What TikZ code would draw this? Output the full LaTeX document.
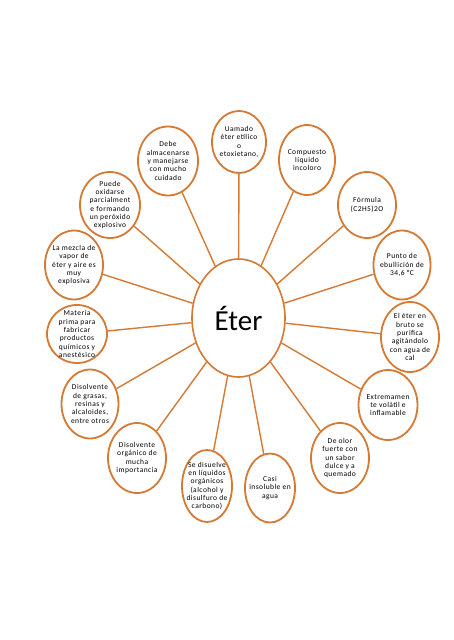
\documentclass[tikz,border=0pt]{standalone}
\usepackage{fontspec}
\setmainfont{Carlito}
\newfontfamily\bubblefont[LetterSpace=6]{Carlito}
\usetikzlibrary{shapes.geometric}
\definecolor{eorange}{RGB}{212,122,52}
\tikzset{
  bubble/.style={ellipse, draw=eorange, line width=1.8pt, fill=white, inner sep=0pt},
  btext/.style={font=\bubblefont\fontsize{7.5}{8.3}\selectfont, align=center, inner sep=0pt, text=black},
  spoke/.style={draw=eorange, line width=1.4pt},
}
\begin{document}
\begin{tikzpicture}[x=1pt,y=-1pt]
\useasboundingbox[fill=white] (0,0) rectangle (453,640);
\node[ellipse, draw=eorange, line width=1.6pt, fill=white, minimum width=93pt, minimum height=118pt, inner sep=0pt, font=\fontsize{29}{34}\selectfont] (c) at (238.5,318) {Éter};

\node[bubble, minimum width=54pt, minimum height=62pt] (n1) at (239,142) {};
\node[bubble, minimum width=56pt, minimum height=70pt] (n2) at (307,160) {};
\node[bubble, minimum width=58pt, minimum height=66pt] (n3) at (367,205) {};
\node[bubble, minimum width=57pt, minimum height=69pt] (n4) at (402,265) {};
\node[bubble, minimum width=58pt, minimum height=70pt] (n5) at (410,337) {};
\node[bubble, minimum width=59pt, minimum height=70pt] (n6) at (388,405) {};
\node[bubble, minimum width=58pt, minimum height=70pt] (n7) at (340,458) {};
\node[bubble, minimum width=50pt, minimum height=69pt] (n8) at (270,488) {};
\node[bubble, minimum width=50pt, minimum height=72pt] (n9) at (207,486) {};
\node[bubble, minimum width=58pt, minimum height=70pt] (n10) at (137,458) {};
\node[bubble, minimum width=57pt, minimum height=69pt] (n11) at (90,404) {};
\node[bubble, minimum width=60pt, minimum height=58pt] (n12) at (77,334) {};
\node[bubble, minimum width=58pt, minimum height=69pt] (n13) at (74,265) {};
\node[bubble, minimum width=60pt, minimum height=66pt] (n14) at (110,205) {};
\node[bubble, minimum width=60pt, minimum height=69pt] (n15) at (168,161) {};

\foreach \i in {1,...,15} {\draw[spoke] (c) -- (n\i);}

\node[btext] (t1) at (n1) {Uamado\\éter etílico\\o\\etoxietano,};
\node[btext] (t2) at (n2) {Compuesto\\líquido\\incoloro};
\node[btext] (t3) at (n3) {Fórmula\\(C2H5)2O};
\node[btext] (t4) at (n4) {Punto de\\ebullición de\\34,6 °C};
\node[btext] (t5) at (n5) {El éter en\\bruto se\\purifica\\agitándolo\\con agua de\\cal};
\node[btext] (t6) at (n6) {Extremamen\\te volátil e\\inflamable};
\node[btext] (t7) at (n7) {De olor\\fuerte con\\un sabor\\dulce y a\\quemado};
\node[btext] (t8) at (n8) {Casi\\insoluble en\\agua};
\node[btext] (t9) at (n9) {Se disuelve\\en líquidos\\orgánicos\\(alcohol y\\disulfuro de\\carbono)};
\node[btext] (t10) at (n10) {Disolvente\\orgánico de\\mucha\\importancia};
\node[btext] (t11) at (n11) {Disolvente\\de grasas,\\resinas y\\alcaloides,\\entre otros};
\node[btext] (t12) at (n12) {Materia\\prima para\\fabricar\\productos\\químicos y\\anestésico};
\node[btext] (t13) at (n13) {La mezcla de\\vapor de\\éter y aire es\\muy\\explosiva};
\node[btext] (t14) at (n14) {Puede\\oxidarse\\parcialment\\e formando\\un peróxido\\explosivo};
\node[btext] (t15) at (n15) {Debe\\almacenarse\\y manejarse\\con mucho\\cuidado};
\end{tikzpicture}
\end{document}
